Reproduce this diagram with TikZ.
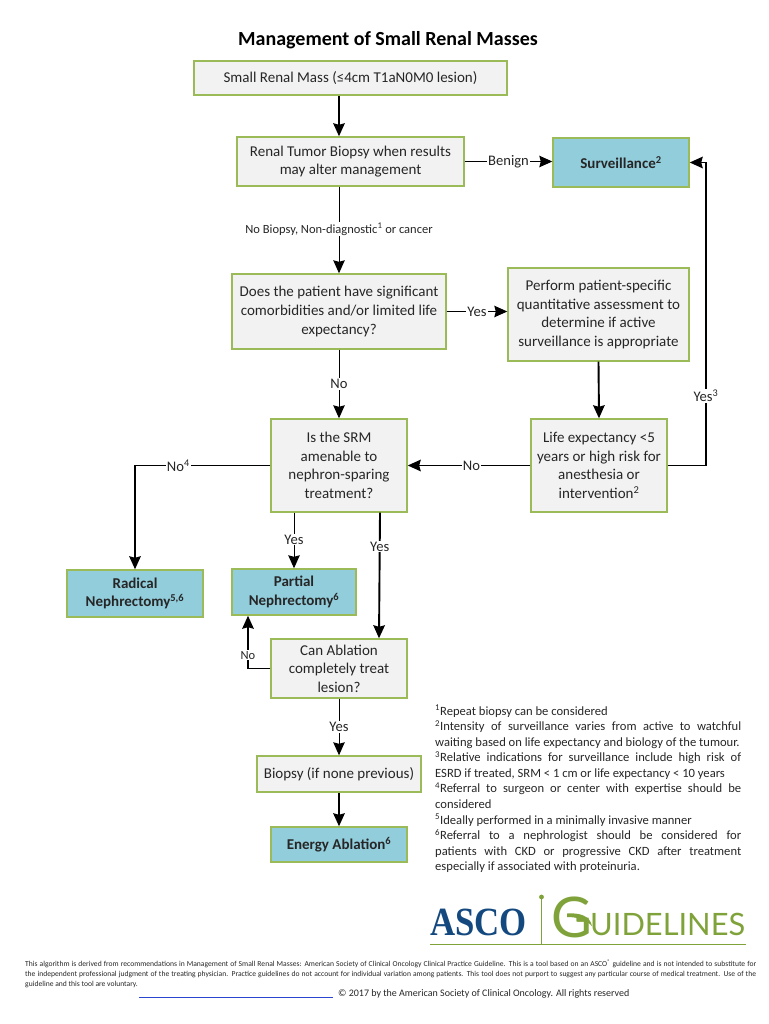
\documentclass[tikz,border=0pt]{standalone}
\usepackage{fontspec}
\setmainfont{Carlito}
\newfontfamily\ascofont{Liberation Serif}
\newfontfamily\logofont{Lato}
\usetikzlibrary{arrows.meta}
\definecolor{boxgreen}{HTML}{9BBB59}
\definecolor{boxgrey}{HTML}{F2F2F2}
\definecolor{boxblue}{HTML}{92CDDC}
\definecolor{logonavy}{HTML}{14497F}
\definecolor{logogreen}{HTML}{7FA33A}
\definecolor{inkgrey}{HTML}{262626}
\definecolor{ruleblue}{HTML}{2A45D0}
\begin{document}
\begin{tikzpicture}[x=1pt, y=-1pt, >={Stealth[length=13pt,width=11.5pt,inset=1.5pt]}, every node/.style={text=inkgrey}]

        % Styles for nodes
        \tikzstyle{step box} = [draw=boxgreen, fill=boxgrey, line width=1.4pt, inner sep=0pt, align=center, font=\fontsize{15}{18.6}\selectfont]
        \tikzstyle{end box} = [step box, fill=boxblue, font=\fontsize{15}{18.6}\selectfont\bfseries]
        \tikzstyle{lab} = [fill=white, inner sep=1pt, font=\fontsize{14.6}{16}\selectfont]
        \tikzstyle{thin link} = [->, line width=1pt, black]
        \tikzstyle{thick link} = [->, line width=1.9pt, black]

        \useasboundingbox (0,0) rectangle (768,1024);

        % Title
        \node[font=\fontsize{20}{24}\selectfont\bfseries, text=black] (title) at (388,40.5) {Management of Small Renal Masses};

        % Nodes
        \node[step box, minimum width=313pt, minimum height=34pt] (mass) at (350.5,78) {Small Renal Mass (≤4cm T1aN0M0 lesion)};
        \node[step box, minimum width=227pt, minimum height=49pt] (biopsy) at (350.5,161.5) {Renal Tumor Biopsy when results\\may alter management};
        \node[end box, minimum width=136pt, minimum height=49pt] (surv) at (621,162.5) {Surveillance\textsuperscript{2}};
        \node[step box, minimum width=214pt, minimum height=75pt] (comorb) at (339,311.5) {Does the patient have significant\\comorbidities and/or limited life\\expectancy?};
        \node[step box, minimum width=181pt, minimum height=93pt] (assess) at (598.5,314.5) {Perform patient-specific\\quantitative assessment to\\determine if active\\surveillance is appropriate};
        \node[step box, minimum width=136pt, minimum height=93pt] (life) at (599,465.5) {Life expectancy <5\\years or high risk for\\anesthesia or\\intervention\textsuperscript{2}};
        \node[step box, minimum width=136pt, minimum height=93pt] (srm) at (339,465.5) {Is the SRM\\amenable to\\nephron-sparing\\treatment?};
        \node[end box, minimum width=136pt, minimum height=47pt] (radical) at (135,593.5) {Radical\\Nephrectomy\textsuperscript{5,6}};
        \node[end box, minimum width=124pt, minimum height=46pt] (partial) at (294,592) {Partial\\Nephrectomy\textsuperscript{6}};
        \node[step box, minimum width=136pt, minimum height=59pt] (ablate) at (339,668.5) {Can Ablation\\completely treat\\lesion?};
        \node[step box, minimum width=164pt, minimum height=36pt] (rebiopsy) at (339,774) {Biopsy (if none previous)};
        \node[end box, minimum width=136pt, minimum height=35pt] (energy) at (339,844.5) {Energy Ablation\textsuperscript{6}};

        % Bends
        \coordinate (bendyes) at (706,465.5);
        \coordinate (bendno) at (135,465.5);
        \coordinate (partialfoot) at ([xshift=-46pt]partial.south);

        % Arrows
        \draw[thick link] (mass.south -| srm.north) -- (biopsy.north -| srm.north);
        \draw[thin link] (biopsy.south -| srm.north) -- node[lab, font=\fontsize{12.5}{14}\selectfont, pos=.49] {No Biopsy, Non-diagnostic\textsuperscript{1} or cancer} (comorb.north);
        \draw[thin link] (biopsy.east) -- node[lab, pos=.5] {Benign} (surv.west |- biopsy.east);
        \draw[thin link] (comorb.east) -- node[lab, pos=.5] {Yes} (assess.west |- comorb.east);
        \draw[thin link] (comorb.south) -- node[lab, pos=.5] {No} (srm.north);
        \draw[thick link] (assess.south) -- (life.north);
        \draw[thick link] (life.west) -- node[lab, pos=.48] {No} (srm.east);
        \draw[thick link] (life.east) -- (bendyes) -- node[lab, pos=.23] {Yes\textsuperscript{3}} (bendyes |- surv.east) -- (surv.east);
        \draw[thick link] (srm.west) -- node[lab, pos=.68] {No\textsuperscript{4}} (bendno) -- (radical.north);
        \draw[thin link] (srm.south -| partial.north) -- node[lab, pos=.48] {Yes} (partial.north);
        \draw[thick link] ([xshift=41pt]srm.south) -- node[lab, pos=.27] {Yes} ([xshift=40pt]ablate.north);
        \draw[thick link] (ablate.west) -- (ablate.west -| partialfoot) -- node[lab, font=\fontsize{12.5}{14}\selectfont, pos=.25] {No} (partialfoot);
        \draw[thin link] (ablate.south) -- node[lab, pos=.5] {Yes} (rebiopsy.north);
        \draw[thick link] (rebiopsy.south) -- (energy.north);

        % Footnotes
        \node[anchor=north west, text width=306pt, inner sep=0pt, align=justify, font=\fontsize{12.6}{15.55}\selectfont] (notes) at (435,705) {\textsuperscript{1}Repeat biopsy can be considered\\
        \textsuperscript{2}Intensity of surveillance varies from active to watchful\linebreak waiting based on life expectancy and biology of the tumour.\\
        \textsuperscript{3}Relative indications for surveillance include high risk of\linebreak ESRD if treated, SRM < 1 cm or life expectancy < 10 years\\
        \textsuperscript{4}Referral to surgeon or center with expertise should be\linebreak considered\\
        \textsuperscript{5}Ideally performed in a minimally invasive manner\\
        \textsuperscript{6}Referral to a nephrologist should be considered for\linebreak patients with CKD or progressive CKD after treatment\linebreak especially if associated with proteinuria.};

        % Logo
        \node[anchor=base west, inner sep=0pt, text=logonavy, font=\fontsize{40}{40}\selectfont\bfseries\ascofont] (asco) at (430,935) {\scalebox{.87}[1]{ASCO}};
        \draw[logogreen, line width=.8pt] (541.5,897) -- (541.5,944);
        \fill[logogreen] (541.5,897) circle (2.4pt);
        \draw[logogreen, line width=.8pt] (430,944) -- (746,944);
        \node[anchor=base west, inner sep=0pt, text=logogreen, font=\fontsize{56}{56}\selectfont\logofont] (logog) at (551,937) {G};
        \fill[logogreen] (567,913.5) .. controls (580,912.5) and (590,916) .. (592,926) .. controls (586,920) and (578,917) .. (567,917) -- cycle;
        \node[anchor=base west, inner sep=0pt, text=logogreen, font=\fontsize{30}{30}\selectfont\logofont] (logotext) at (590,935) {\resizebox{155pt}{!}{UIDELINES}};

        % Footer
        \node[anchor=north west, text width=731pt, inner sep=0pt, align=justify, font=\fontsize{7.6}{10.2}\selectfont] (legal) at (25,959.5) {This algorithm is derived from recommendations in Management of Small Renal Masses: American Society of Clinical Oncology Clinical Practice Guideline. This is a tool based on an ASCO\textsuperscript{®} guideline and is not intended to substitute for\linebreak the independent professional judgment of the treating physician. Practice guidelines do not account for individual variation among patients. This tool does not purport to suggest any particular course of medical treatment. Use of the\linebreak guideline and this tool are voluntary.};
        \draw[ruleblue, line width=1pt] (139,997) -- (333,997);
        \node[anchor=west, inner sep=0pt, font=\fontsize{10}{12}\selectfont] (copy) at (338,994) {© 2017 by the American Society of Clinical Oncology. All rights reserved};

    \end{tikzpicture}
\end{document}
